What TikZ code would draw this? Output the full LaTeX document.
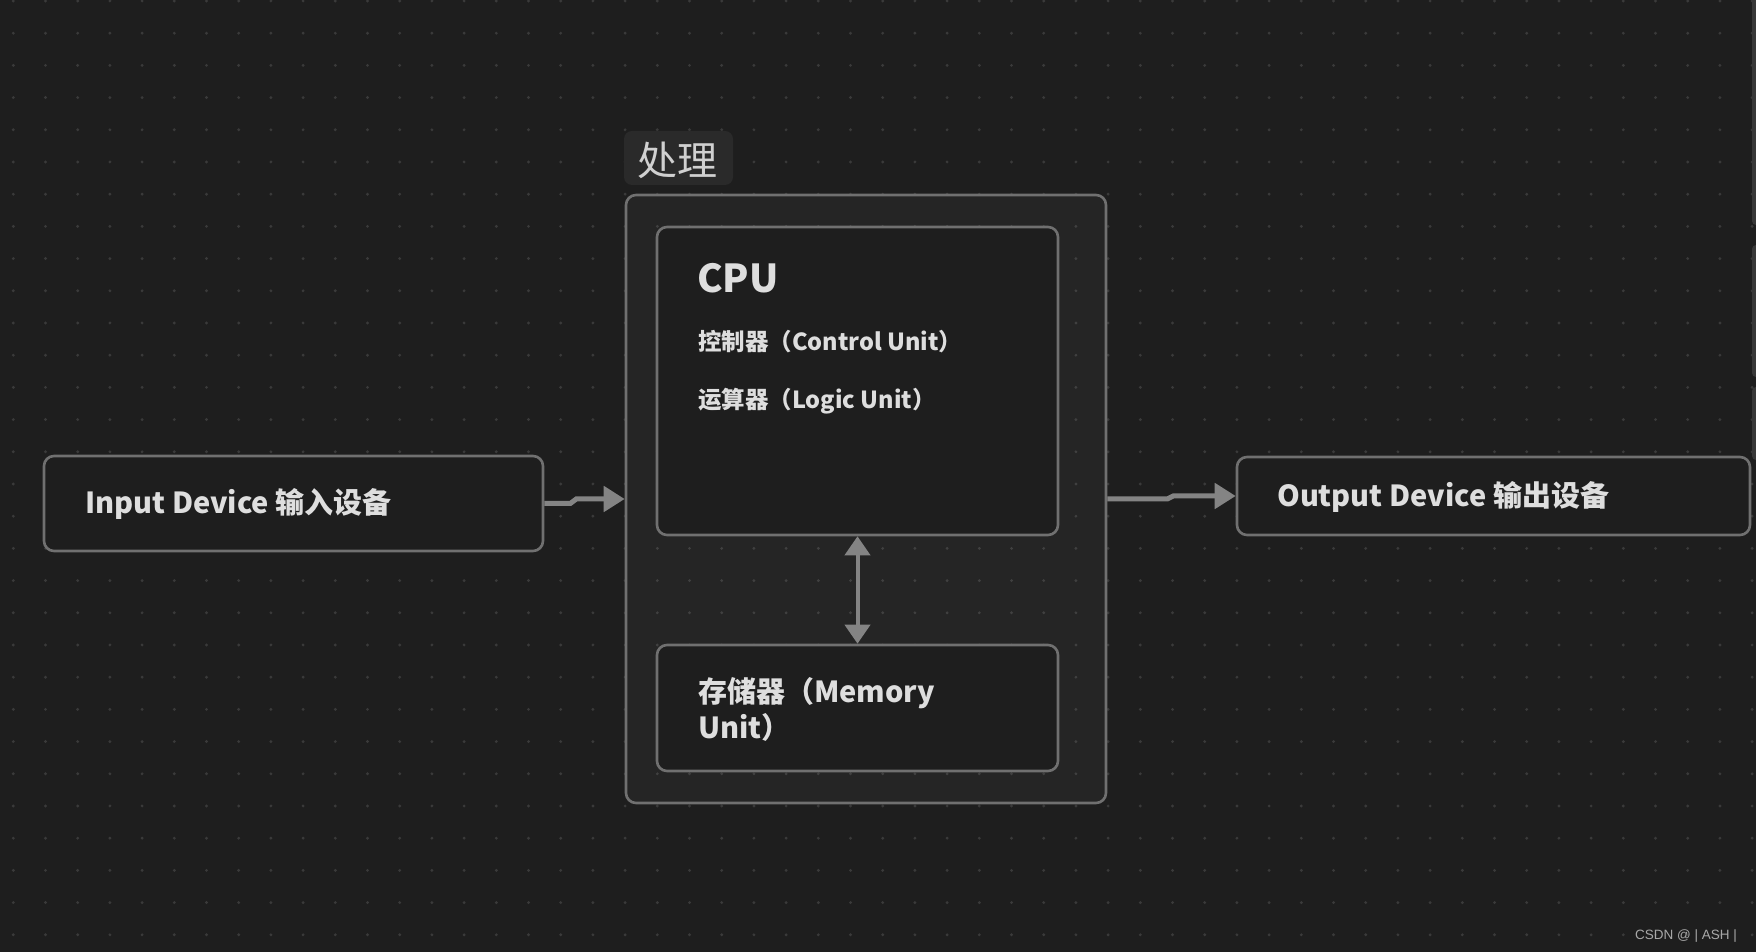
\documentclass[tikz,border=0pt]{standalone}
\usepackage{fontspec}
\setmainfont{Noto Sans CJK SC}
\newfontfamily\wmfont{Liberation Sans}
\usetikzlibrary{arrows.meta,calc}
\definecolor{bgc}{HTML}{1E1E1E}
\definecolor{dotc}{HTML}{3A3A3A}
\definecolor{bordc}{HTML}{707070}
\definecolor{arrc}{HTML}{848484}
\definecolor{cardc}{HTML}{1E1E1E}
\definecolor{labc}{HTML}{2A2A2A}
\definecolor{txtc}{HTML}{DEDEDE}
\definecolor{labtc}{HTML}{D0D0D0}
\definecolor{wmc}{HTML}{A8A8A8}
\definecolor{slivc}{HTML}{383838}
\tikzset{
  card/.style={draw=bordc, line width=2.6pt, rounded corners=10pt, fill=cardc, inner sep=0pt},
  groupbox/.style={draw=bordc, line width=2.6pt, rounded corners=10pt, fill=white, fill opacity=0.03, draw opacity=1, inner sep=0pt},
  labbox/.style={fill=labc, rounded corners=8pt, inner sep=0pt},
  txt/.style={text=txtc, inner sep=0pt, anchor=base west},
  conn/.style={draw=arrc, line width=5pt, -{Triangle[length=21pt,width=25pt]}},
  biconn/.style={draw=arrc, line width=4pt, {Triangle[length=19pt,width=25pt]}-{Triangle[length=19pt,width=25pt]}},
}
\begin{document}
\begin{tikzpicture}[x=1pt,y=1pt]
\fill[bgc] (0,0) rectangle (1756,952);
\useasboundingbox (0,0) rectangle (1756,952);
% dot grid
\foreach \i in {0,...,54} {
  \foreach \j in {0,...,29} {
    \fill[dotc] ({13.3+32.2*\i},{951-32.2*\j}) circle (1.6);
  }
}
% slivers of nodes cut off at the right edge
\fill[slivc, rounded corners=4pt] (1752,727) rectangle (1762,962);
\fill[slivc, rounded corners=4pt] (1752,575) rectangle (1762,707);
\fill[slivc, rounded corners=4pt] (1752,492) rectangle (1762,565);

% group label
\node[labbox, minimum width=109pt, minimum height=54pt] (lab) at (678.5,794) {};
\node[txt, font=\fontsize{40}{40}\selectfont, text=labtc] at (637,776.5) (labtxt) {处理};
% group box
\node[groupbox, minimum width=480pt, minimum height=608pt] (group) at (866,453) {};
% cards
\node[card, minimum width=401pt, minimum height=308pt] (cpu) at (857.5,571) {};
\node[card, minimum width=401pt, minimum height=126pt] (mem) at (857.5,244) {};
\node[card, minimum width=499pt, minimum height=95pt] (input) at (293.5,448.5) {};
\node[card, minimum width=513pt, minimum height=78pt] (output) at (1493.5,456) {};

% texts
\node[txt, font=\bfseries\fontsize{38.5}{38.5}\selectfont] (cputxt) at (697,659) {CPU};
\node[txt, font=\bfseries\fontsize{23.5}{23.5}\selectfont] (cu) at (698,601) {控制器（Control Unit）};
\node[txt, font=\bfseries\fontsize{23.5}{23.5}\selectfont] (lu) at (698,543) {运算器（Logic Unit）};
\node[txt, font=\bfseries\fontsize{29}{29}\selectfont] (memA) at (698,249) {存储器（Memory};
\node[txt, font=\bfseries\fontsize{29}{29}\selectfont] (memB) at (698,213) {Unit）};
\node[txt, font=\bfseries\fontsize{29}{29}\selectfont] (intxt) at (85,438) {Input Device 输入设备};
\node[txt, font=\bfseries\fontsize{29}{29}\selectfont] (outtxt) at (1277,445) {Output Device 输出设备};
\node[txt, font=\wmfont\fontsize{13.5}{13.5}\selectfont, text=wmc] (wm) at (1635,12) {CSDN @ | ASH |};

% connectors
\draw[conn] (input.east) -- ++(26,0) -- ++(6,4.5) -- (group.west);
\draw[conn] (group.east) -- ++(60,0) -- ++(6,3) -- (output.west);
\draw[biconn] (cpu.south) -- (mem.north);
\end{tikzpicture}
\end{document}
